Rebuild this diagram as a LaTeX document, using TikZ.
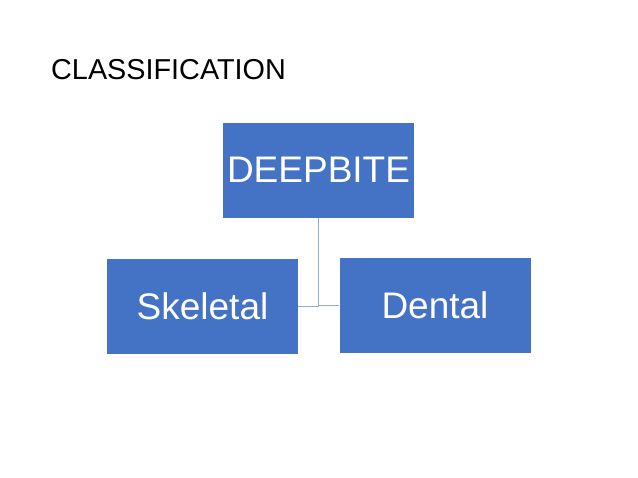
\documentclass[tikz,border=0pt]{standalone}
\usepackage{fontspec}
\setmainfont{Liberation Sans}
\usetikzlibrary{positioning}
\definecolor{clsBlue}{HTML}{4472C4}
\definecolor{clsLink}{HTML}{8FAADC}
\definecolor{clsInk}{HTML}{000000}
\tikzset{
  cls canvas/.style={fill=white},
  cls title/.style={font=\fontsize{28.8}{34}\selectfont, text=clsInk, inner sep=0pt, anchor=base west},
  cls box/.style={
    fill=clsBlue,
    draw=none,
    text=white,
    inner sep=0pt,
    minimum width=191pt,
    minimum height=95pt,
    font=\fontsize{37}{44}\selectfont
  },
  cls link/.style={draw=clsLink, line width=1pt}
}
\begin{document}
\begin{tikzpicture}[x=1pt,y=-1pt]
  \path[cls canvas] (0,0) rectangle (638,478);
  \useasboundingbox (0,0) rectangle (638,478);

  \node[cls title] (title) at (51,80) {CLASSIFICATION};

  \node[cls box, text depth=2pt] (deepbite) at (318.5,170.5) {DEEPBITE};
  \node[cls box] (skeletal) at (202.5,306.5) {Skeletal};
  \node[cls box] (dental) at (435,305.5) {Dental};

  \draw[cls link] (deepbite.south) |- (skeletal.east);
  \draw[cls link] (deepbite.south) |- (dental.west);
\end{tikzpicture}
\end{document}
